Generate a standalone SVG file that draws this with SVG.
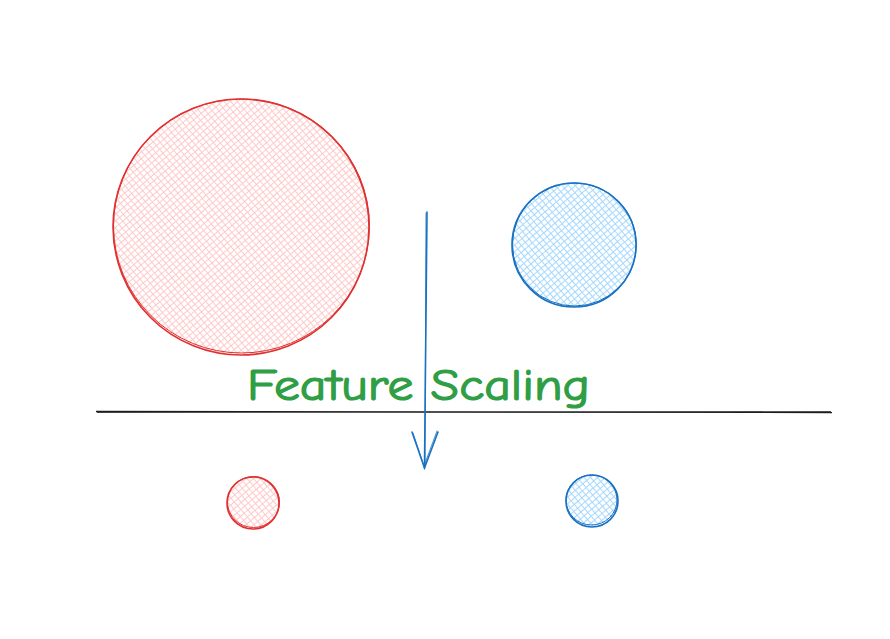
<svg xmlns="http://www.w3.org/2000/svg" width="890" height="639" viewBox="0 0 890 639">
<style>
.red{fill:url(#hr);stroke:#e03131;stroke-width:1.6}
.blue{fill:url(#hb);stroke:#1971c2;stroke-width:1.6}
.sk{fill:none;stroke-width:1}
.lbl{font-family:"Comic Neue","Liberation Sans",sans-serif;font-size:44px;fill:#2f9e44;stroke:#2f9e44;stroke-width:1.2;stroke-linejoin:round}
</style>
<defs>
<pattern id="hr" width="5" height="5" patternUnits="userSpaceOnUse" patternTransform="rotate(-41)">
<rect width="5" height="5" fill="#fff"/>
<line x1="0" y1="2.5" x2="5" y2="2.5" stroke="#ffc9c9" stroke-width="1"/>
<line x1="2.5" y1="0" x2="2.5" y2="5" stroke="#ffc9c9" stroke-width="1"/>
</pattern>
<pattern id="hb" width="5" height="5" patternUnits="userSpaceOnUse" patternTransform="rotate(-41)">
<rect width="5" height="5" fill="#fff"/>
<line x1="0" y1="2.5" x2="5" y2="2.5" stroke="#a5d8ff" stroke-width="1"/>
<line x1="2.5" y1="0" x2="2.5" y2="5" stroke="#a5d8ff" stroke-width="1"/>
</pattern>
</defs>
<rect width="890" height="639" fill="#fff"/>
<g id="big-red">
<circle class="red" cx="241" cy="227" r="128"/>
<ellipse class="sk" stroke="#e03131" cx="241.5" cy="226" rx="128" ry="127"/>
</g>
<g id="big-blue">
<circle class="blue" cx="574" cy="245" r="62"/>
<ellipse class="sk" stroke="#1971c2" cx="574.5" cy="244.5" rx="62" ry="61.5"/>
</g>
<g id="small-red">
<circle class="red" cx="253" cy="503" r="26"/>
<ellipse class="sk" stroke="#e03131" cx="253.5" cy="502" rx="26" ry="25.5"/>
</g>
<g id="small-blue">
<circle class="blue" cx="592" cy="501" r="26"/>
<ellipse class="sk" stroke="#1971c2" cx="591.5" cy="500" rx="25.5" ry="25"/>
</g>
<g id="connectors">
<g id="axis" stroke="#1e1e1e" fill="none">
<path d="M96 411.5 L832 412.5" stroke-width="1.3"/>
<path d="M97 412.5 L831 411.5" stroke-width="0.8"/>
</g>
<g id="arrow" stroke="#1971c2" fill="none" stroke-width="1.6" stroke-linecap="round">
<path d="M427 212 Q426 340 424.5 468"/>
<path d="M426 213 Q425.5 340 425 466" stroke-width="0.8"/>
<path d="M412 432 L424.5 468 L438 432"/>
<path d="M413 433 L424 466 L437 431" stroke-width="0.8"/>
</g>
</g>
<g id="label">
<text class="lbl" x="247" y="400" textLength="343" lengthAdjust="spacingAndGlyphs">Feature Scaling</text>
</g>
</svg>
